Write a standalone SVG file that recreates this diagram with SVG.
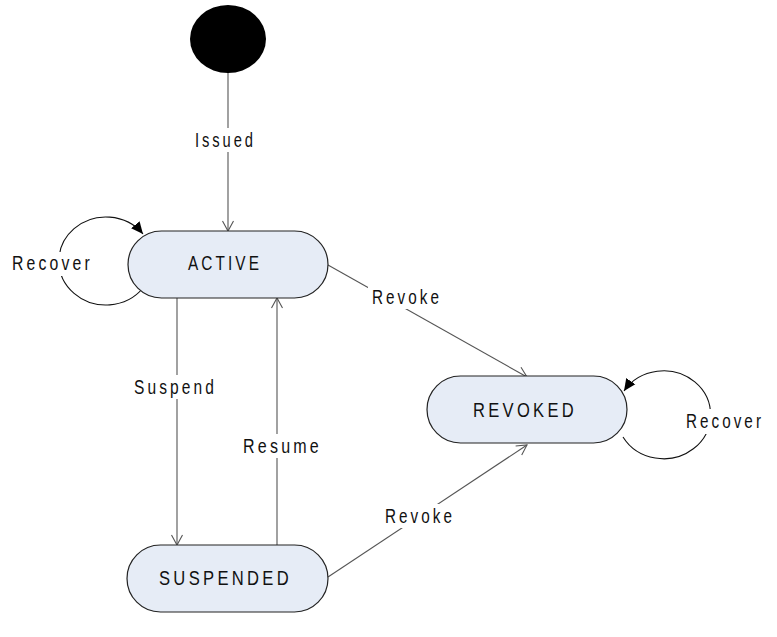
<svg xmlns="http://www.w3.org/2000/svg" width="777" height="637" viewBox="0 0 777 637">
<defs>
<style>
.node{fill:#E6ECF6;stroke:#222;stroke-width:1.2}
.edge{fill:none;stroke:#555;stroke-width:1.1}
.loop{fill:none;stroke:#111;stroke-width:1.1}
.lbl{font-family:"Liberation Sans",Arial,sans-serif;font-size:20px;fill:#111;letter-spacing:4px}
.bg{fill:#fff}
</style>
<marker id="open" markerWidth="14" markerHeight="14" refX="12" refY="7" orient="auto" markerUnits="userSpaceOnUse">
<path d="M2,1.5 L12,7 L2,12.5" fill="none" stroke="#555" stroke-width="1.1"/>
</marker>
<marker id="fill" markerWidth="14" markerHeight="14" refX="12" refY="7" orient="auto" markerUnits="userSpaceOnUse">
<path d="M0,1.5 L12,7 L0,12.5 Z" fill="#000"/>
</marker>
</defs>
<g id="start"><ellipse cx="228" cy="39" rx="38" ry="34" fill="#000"/></g>
<g id="connectors">
<line class="edge" x1="228" y1="73" x2="228" y2="231" marker-end="url(#open)"/>
<line class="edge" x1="177" y1="298" x2="177" y2="545" marker-end="url(#open)"/>
<line class="edge" x1="277" y1="545" x2="277" y2="298" marker-end="url(#open)"/>
<line class="edge" x1="328" y1="265" x2="527" y2="377" marker-end="url(#open)"/>
<line class="edge" x1="328" y1="577" x2="527" y2="445" marker-end="url(#open)"/>
<path class="loop" d="M143,288 A47 44 0 1 1 143,234" marker-end="url(#fill)"/>
<path class="loop" d="M623,437 A47 44 0 1 0 624,391" marker-end="url(#fill)"/>
<rect class="bg" x="192" y="128" width="68" height="24"/>
<rect class="bg" x="8" y="252" width="90" height="24"/>
<rect class="bg" x="131" y="375" width="90" height="24"/>
<rect class="bg" x="240" y="434" width="86" height="24"/>
<rect class="bg" x="368" y="285" width="78" height="24"/>
<rect class="bg" x="381" y="504" width="78" height="24"/>
<rect class="bg" x="683" y="409" width="88" height="25"/>
<text class="lbl" x="195" y="147" textLength="61" lengthAdjust="spacingAndGlyphs">Issued</text>
<text class="lbl" x="12" y="270" textLength="81" lengthAdjust="spacingAndGlyphs">Recover</text>
<text class="lbl" x="134" y="394" textLength="83" lengthAdjust="spacingAndGlyphs">Suspend</text>
<text class="lbl" x="243" y="453" textLength="79" lengthAdjust="spacingAndGlyphs">Resume</text>
<text class="lbl" x="372" y="304" textLength="70" lengthAdjust="spacingAndGlyphs">Revoke</text>
<text class="lbl" x="385" y="523" textLength="70" lengthAdjust="spacingAndGlyphs">Revoke</text>
<text class="lbl" x="764" y="428" text-anchor="end" textLength="78" lengthAdjust="spacingAndGlyphs">Recover</text>
</g>
<g id="active">
<rect class="node" x="128" y="231" width="200" height="67" rx="33.5"/>
<text class="lbl" x="188" y="270" textLength="74" lengthAdjust="spacingAndGlyphs">ACTIVE</text>
</g>
<g id="revoked">
<rect class="node" x="427" y="376" width="200" height="67" rx="33.5"/>
<text class="lbl" x="473" y="417" textLength="104" lengthAdjust="spacingAndGlyphs">REVOKED</text>
</g>
<g id="suspended">
<rect class="node" x="127" y="545" width="201" height="67" rx="33.5"/>
<text class="lbl" x="159" y="585" textLength="133" lengthAdjust="spacingAndGlyphs">SUSPENDED</text>
</g>
</svg>
